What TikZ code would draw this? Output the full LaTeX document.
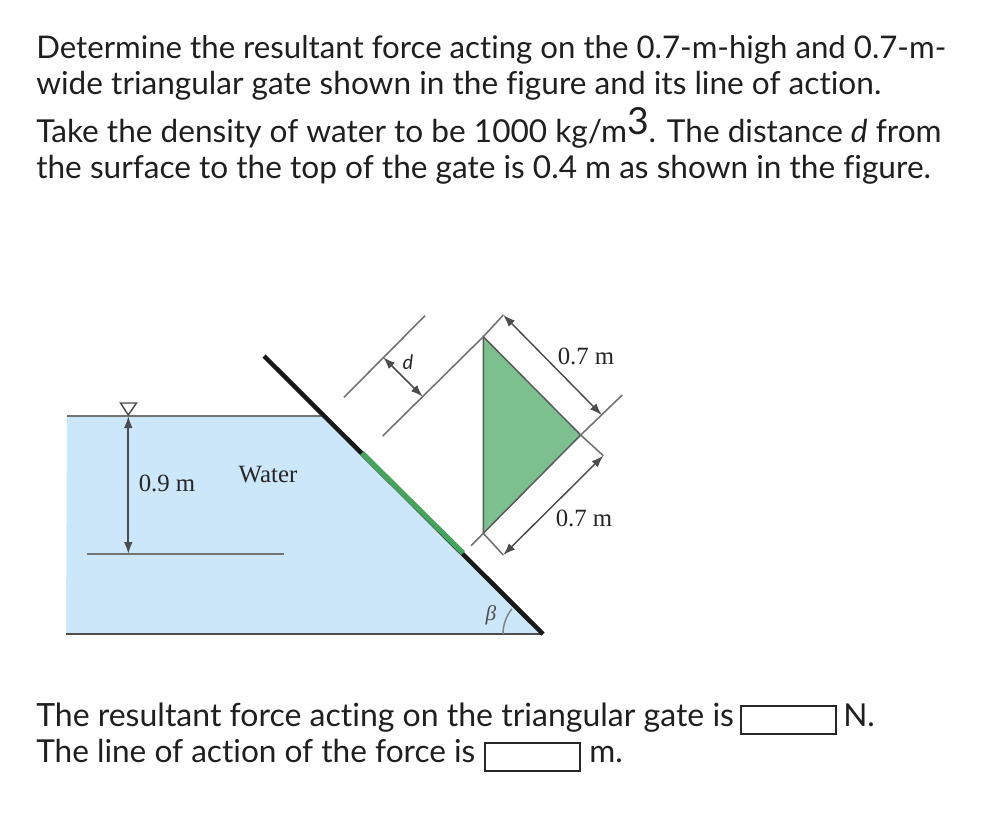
\documentclass[tikz,border=0pt]{standalone}
\usepackage{fontspec}
\setmainfont[Ligatures=CommonOff]{Lato}
\newfontfamily\figserif{Liberation Serif}
\usetikzlibrary{arrows.meta}
\definecolor{waterc}{HTML}{CCE6FA}
\definecolor{gatec}{HTML}{7DC08F}
\definecolor{slopegreen}{HTML}{45A35C}
\tikzset{
  para/.style={anchor=base west,inner sep=0pt,font=\fontsize{23.7pt}{27pt}\selectfont,text=black!88},
  figlabel/.style={inner sep=0pt,font=\figserif\fontsize{18.6pt}{22pt}\selectfont,text=black!85},
  thinline/.style={draw=black!55,line width=1.2pt},
  dimline/.style={draw=black!70,line width=1.1pt,{Latex[length=9pt,width=6.5pt]}-{Latex[length=9pt,width=6.5pt]}},
  ansbox/.style={draw=black!85,line width=1.4pt,fill=white}
}
\begin{document}
\begin{tikzpicture}[x=.75pt,y=-.75pt]
\useasboundingbox (0,0) rectangle (988,828);
\node[para,font=\fontsize{23.4pt}{27pt}\selectfont] (l1) at (36,58.5) {Determine the resultant force acting on the 0.7-m-high and 0.7-m-};
\node[para] (l2) at (36,94.5) {wide triangular gate shown in the figure and its line of action.};
\node[para] (l3) at (36,142.5) {Take the density of water to be 1000 kg/m\raisebox{6pt}{\fontsize{28pt}{28pt}\selectfont 3}. The distance \textit{d} from};
\node[para] (l4) at (36,178.5) {the surface to the top of the gate is 0.4 m as shown in the figure.};
\node[para,font=\fontsize{24pt}{27pt}\selectfont] (l5) at (36,726.5) {The resultant force acting on the triangular gate is};
\node[para] (l6) at (36,762.5) {The line of action of the force is};
\node[para] (n) at (843,726.5) {N.};
\node[para] (m) at (589,762.5) {m.};
\draw[ansbox] (741,706) rectangle (836,734);
\draw[ansbox] (485,743) rectangle (580,771);
% water
\coordinate (wtl) at (67,416);
\coordinate (wtr) at (326,416);
\coordinate (wbr) at (543,634);
\coordinate (wbl) at (66,634);
\fill[waterc] (wtl)--(wtr)--(wbr)--(wbl)--cycle;
\draw[thinline] (wtl)--(wtr);
\draw[draw=black!70,line width=1.5pt] (wbl)--(wbr);
\coordinate (st) at (264,356);
\coordinate (g1) at (362,453);
\coordinate (g2) at (463,553);
\draw[black!90,line width=3.4pt] (st)--(wbr);
\draw[slopegreen,line width=4pt] (g1)--(g2);
% level
\coordinate (la) at (87,554);
\coordinate (lb) at (284,554);
\draw[thinline] (la)--(lb);
\coordinate (t1) at (120.5,403);
\coordinate (t2) at (136.5,403);
\coordinate (t3) at (128.3,415);
\draw[black!70,line width=1.1pt] (t1)--(t2)--(t3)--cycle;
\coordinate (a1) at (128.3,416);
\coordinate (a2) at (128.3,554);
\draw[dimline,line width=1.4pt] (a1)--(a2);
\node[figlabel] (d09) at (167,483) {0.9 m};
\node[figlabel] (wat) at (268,475) {Water};
% beta
\draw[black!50,line width=1.1pt] (503,634) arc (180:219:40);
\node[inner sep=0pt,font=\fontsize{16pt}{18pt}\selectfont,text=black!70] (bet) at (491,615) {\figserif\itshape β};
% gate
\coordinate (gt) at (483.3,336.7);
\coordinate (gr) at (580.7,435);
\coordinate (gb) at (483.3,533.3);
\fill[gatec] (gt)--(gr)--(gb)--cycle;
\draw[black!65,line width=1.1pt] (gt)--(gr)--(gb)--cycle;
% extension lines
\coordinate (e1) at (503.3,315);
\coordinate (e2) at (622.3,395);
\coordinate (e3) at (603.3,455.7);
\coordinate (e4) at (503.3,555);
\coordinate (e5) at (471,545.7);
\coordinate (e6) at (382.7,436);
\coordinate (e7) at (344,397.3);
\coordinate (e8) at (425,315.7);
\draw[thinline] (e6)--(gt)--(e1);
\draw[thinline] (e2)--(gr)--(e3);
\draw[thinline] (e5)--(gb)--(e4);
\draw[thinline] (e7)--(e8);
\coordinate (k1) at (601.7,415);
\draw[dimline] (e1)--(k1);
\draw[dimline] (e4)--(e3);
\coordinate (d1) at (383.3,357.3);
\coordinate (d2) at (422.7,396.7);
\draw[dimline] (d1)--(d2);
\node[inner sep=0pt,font=\fontsize{15pt}{18pt}\selectfont\itshape,text=black!85] (dl) at (408,362) {d};
\node[figlabel] (m1) at (586,356) {0.7 m};
\node[figlabel] (m2) at (584,518) {0.7 m};
\end{tikzpicture}
\end{document}
